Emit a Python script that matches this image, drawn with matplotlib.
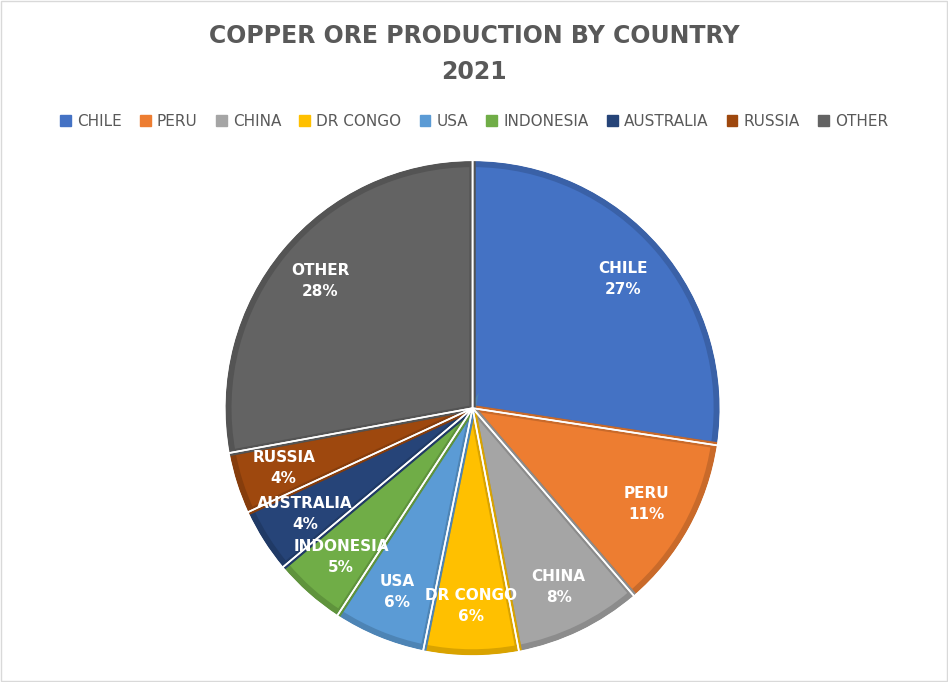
import matplotlib.pyplot as plt
import matplotlib.colors as mcolors
import numpy as np
from matplotlib.patches import Rectangle

countries = ["CHILE", "PERU", "CHINA", "DR CONGO", "USA", "INDONESIA", "AUSTRALIA", "RUSSIA", "OTHER"]
shares = [27.4, 11.3, 8.3, 6.2, 6.0, 4.7, 4.2, 4.0, 27.9]
colors = ["#4472C4", "#ED7D31", "#A5A5A5", "#FFC000", "#5B9BD5",
          "#70AD47", "#264478", "#9E480E", "#636363"]


def darker(c, f=0.85):
    r, g, b = mcolors.to_rgb(c)
    return (r * f, g * f, b * f)


fig = plt.figure(figsize=(9.48, 6.82), dpi=100)
fig.add_artist(Rectangle((0.001, 0.001), 0.998, 0.998, transform=fig.transFigure,
                         fill=False, edgecolor="#D9D9D9", lw=1))

ax = fig.add_axes([0.237, 0.038, 0.523, 0.727])
wedges, _ = ax.pie(shares, colors=colors, startangle=90, counterclock=False,
                   radius=0.985,
                   wedgeprops=dict(linewidth=4.5, edgecolor="white"))
for w, c in zip(wedges, colors):
    w.set_edgecolor(darker(c))
ax.pie(shares, colors=["none"] * len(shares), startangle=90, counterclock=False,
       radius=1.0, wedgeprops=dict(linewidth=1.2, edgecolor="white", fill=False))
ax.set_xlim(-1, 1)
ax.set_ylim(-1, 1)
ax.set_aspect("equal")

total = sum(shares)
for w, name, v in zip(wedges, countries, shares):
    ang = np.deg2rad((w.theta1 + w.theta2) / 2)
    r = 0.8
    ax.text(r * np.cos(ang), r * np.sin(ang), f"{name}\n{v / total * 100:.0f}%",
            ha="center", va="center", color="white", fontsize=11,
            fontweight="bold", linespacing=1.5)

fig.text(0.5, 1 - 36 / 682, "COPPER ORE PRODUCTION BY COUNTRY", ha="center",
         va="center", fontsize=17, color="#595959", fontweight="bold")
fig.text(0.5, 1 - 72 / 682, "2021", ha="center", va="center", fontsize=17,
         color="#595959", fontweight="bold")

handles = [Rectangle((0, 0), 1, 1, color=c) for c in colors]
fig.legend(handles, countries, loc="center", bbox_to_anchor=(0.5, 1 - 121 / 682),
           ncol=len(countries), frameon=False, fontsize=11, labelcolor="#595959",
           handlelength=0.7, handleheight=0.7, handletextpad=0.4, columnspacing=1.2)

fig.savefig("out.png", dpi=100)
